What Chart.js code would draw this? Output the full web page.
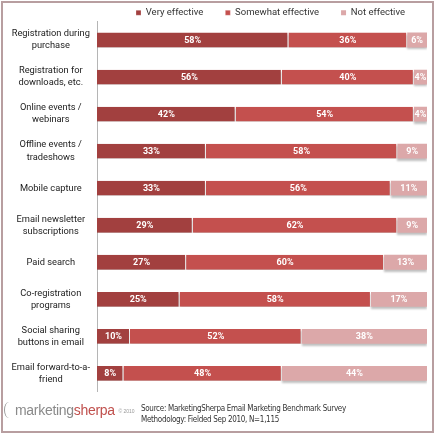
<!DOCTYPE html>
<html>
<head>
<meta charset="utf-8">
<script src="https://cdn.jsdelivr.net/npm/chart.js@4"></script>
<style>
  body { margin: 0; background: #fff; }
  #wrap { position: relative; width: 435px; height: 435px; }
  #frame { position: absolute; left: 1px; top: 1px; width: 429px; height: 428px; border: 2px solid #b89ea0; box-sizing: content-box; }
  #box { position: absolute; left: 0; top: 0; width: 435px; height: 411px; }
  .icon { position: absolute; left: 4px; top: 402px; width: 9px; height: 16px; border-left: 1.5px solid #999; border-radius: 50%; }
  .logo { position: absolute; left: 15px; top: 402px; font: 14px "Liberation Sans", Arial, sans-serif; color: #8a8a8a; letter-spacing: -0.3px; }
  .logo b { font-weight: normal; color: #c0504d; }
  .logo small { font-size: 5px; color: #999; vertical-align: middle; letter-spacing: 0; }
  .src { position: absolute; left: 141px; top: 403px; font: 8px "DejaVu Sans Condensed", "Liberation Sans", sans-serif; color: #333; line-height: 11px; letter-spacing: -0.3px; }
</style>
</head>
<body>
<div id="wrap">
  <div id="frame"></div>
  <div id="box"><canvas id="barChart"></canvas></div>
  <div class="icon"></div>
  <div class="logo">marketing<b>sherpa</b> <small>© 2010</small></div>
  <div class="src">Source: MarketingSherpa Email Marketing Benchmark Survey<br>Methodology: Fielded Sep 2010, N=1,115</div>
</div>
<script>
const categories = [
  ['Registration during', 'purchase'],
  ['Registration for', 'downloads, etc.'],
  ['Online events /', 'webinars'],
  ['Offline events /', 'tradeshows'],
  'Mobile capture',
  ['Email newsletter', 'subscriptions'],
  'Paid search',
  ['Co-registration', 'programs'],
  ['Social sharing', 'buttons in email'],
  ['Email forward-to-a-', 'friend']
];
const veryEffective = [58, 56, 42, 33, 33, 29, 27, 25, 10, 8];
const somewhatEffective = [36, 40, 54, 58, 56, 62, 60, 58, 52, 48];
const notEffective = [6, 4, 4, 9, 11, 9, 13, 17, 38, 44];

const labelFont = 'Roboto, "Liberation Sans", Arial, sans-serif';

// draws the % values inside each segment
const valueLabels = {
  id: 'valueLabels',
  afterDatasetsDraw(chart) {
    const ctx = chart.ctx;
    ctx.save();
    ctx.fillStyle = '#fff';
    ctx.font = 'bold 9px ' + labelFont;
    ctx.textAlign = 'center';
    ctx.textBaseline = 'middle';
    chart.data.datasets.forEach((ds, i) => {
      chart.getDatasetMeta(i).data.forEach((bar, j) => {
        const mid = (bar.x + bar.base) / 2;
        ctx.fillText(ds.data[j] + '%', mid, bar.y + 0.5);
      });
    });
    ctx.restore();
  }
};

// soft shadow under the bars
const barShadow = {
  id: 'barShadow',
  beforeDatasetsDraw(chart) {
    const ctx = chart.ctx;
    ctx.save();
    ctx.shadowColor = 'rgba(0,0,0,0.25)';
    ctx.shadowOffsetY = 2;
    ctx.shadowBlur = 2;
  },
  afterDatasetsDraw(chart) {
    chart.ctx.restore();
  }
};

// legend keeps wide spacing between items but takes less height
const legendFit = {
  id: 'legendFit',
  afterInit(chart) {
    const legend = chart.legend;
    const fit = legend.fit;
    legend.fit = function () {
      fit.call(this);
      this.height -= 6;
    };
  }
};

const ctx = document.getElementById('barChart').getContext('2d');

const barChart = new Chart(ctx, {
  type: 'bar',
  data: {
    labels: categories,
    datasets: [
      {
        label: 'Very effective',
        data: veryEffective,
        backgroundColor: '#a2403f',
        borderColor: '#fff',
        borderWidth: { right: 1, left: 0, top: 0, bottom: 0 },
        borderSkipped: false
      },
      {
        label: 'Somewhat effective',
        data: somewhatEffective,
        backgroundColor: '#c4504e',
        borderColor: '#fff',
        borderWidth: { right: 1, left: 0, top: 0, bottom: 0 },
        borderSkipped: false
      },
      {
        label: 'Not effective',
        data: notEffective,
        backgroundColor: '#dca8a9',
        borderWidth: 0
      }
    ]
  },
  options: {
    indexAxis: 'y',
    responsive: true,
    maintainAspectRatio: false,
    animation: false,
    barPercentage: 0.4,
    categoryPercentage: 1,
    layout: { padding: { left: 5, right: 8, top: -14, bottom: 0 } },
    scales: {
      x: {
        stacked: true,
        min: 0,
        max: 100,
        display: false
      },
      y: {
        stacked: true,
        grid: { display: false, drawTicks: false },
        border: { display: true, color: '#b5b5b5', width: 1 },
        ticks: {
          color: '#222',
          crossAlign: 'center',
          padding: 7,
          font: { family: labelFont, size: 9.3, lineHeight: 1.3 }
        },
        afterFit(scale) { scale.width = 92; }
      }
    },
    plugins: {
      legend: {
        display: true,
        position: 'top',
        align: 'end',
        labels: {
          color: '#333',
          boxWidth: 5,
          boxHeight: 5,
          padding: 22,
          font: { family: labelFont, size: 9.5 }
        }
      },
      tooltip: { enabled: false }
    }
  },
  plugins: [legendFit, barShadow, valueLabels]
});
</script>
</body>
</html>
